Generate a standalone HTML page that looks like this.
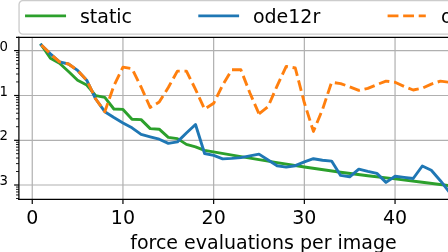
<!DOCTYPE html>
<html><head><meta charset="utf-8"><title>chart</title>
<style>html,body{margin:0;padding:0;background:#fff;width:448px;height:252px;overflow:hidden}</style></head>
<body>
<svg width="448" height="252" viewBox="0 0 448 252" style="display:block;position:absolute;left:0;top:0" font-family="'DejaVu Sans', 'Liberation Sans', sans-serif">
<rect width="448" height="252" fill="#fff"/>
<g stroke="#b0b0b0" stroke-width="1.2" fill="none"><line x1="32.25" y1="37.35" x2="32.25" y2="199.30"/><line x1="122.95" y1="37.35" x2="122.95" y2="199.30"/><line x1="213.65" y1="37.35" x2="213.65" y2="199.30"/><line x1="304.35" y1="37.35" x2="304.35" y2="199.30"/><line x1="395.05" y1="37.35" x2="395.05" y2="199.30"/><line x1="18.90" y1="50.60" x2="460" y2="50.60"/><line x1="18.90" y1="95.50" x2="460" y2="95.50"/><line x1="18.90" y1="140.30" x2="460" y2="140.30"/><line x1="18.90" y1="185.00" x2="460" y2="185.00"/></g>
<clipPath id="c"><rect x="18.90" y="37.35" width="460" height="161.95"/></clipPath>
<g clip-path="url(#c)" fill="none" stroke-width="2.9" stroke-linejoin="round">
<polyline stroke="#2ca02c" stroke-linecap="square" points="41.3,44.9 50.4,58.3 59.5,63.3 68.5,71.5 77.6,80.2 86.7,85.0 95.7,95.6 104.8,97.4 113.9,109.0 123.0,109.4 132.0,119.2 141.1,119.6 150.2,128.6 159.2,129.2 168.3,137.4 177.4,138.6 186.4,144.4 195.5,146.8 204.6,150.4 240.9,156.6 277.1,162.6 304.4,167.0 340.6,172.2 367.8,175.7 395.1,178.9 422.3,182.3 449.5,185.7"/>
<polyline stroke="#1f77b4" stroke-linecap="square" points="41.3,45.0 50.4,53.9 59.5,61.9 68.5,64.0 77.6,70.4 86.7,80.2 95.7,99.0 104.8,111.7 113.9,117.5 123.0,122.9 132.0,127.8 141.1,134.4 150.2,136.8 159.2,139.2 168.3,143.4 177.4,141.9 186.4,133.0 195.5,124.5 204.6,153.5 213.7,155.3 222.7,158.9 231.8,158.4 240.9,157.6 249.9,155.9 259.0,154.1 268.1,160.0 277.1,165.7 286.2,167.1 295.3,165.7 304.4,161.9 313.4,158.7 322.5,160.2 331.6,161.1 340.6,175.4 349.7,176.8 358.8,169.1 367.8,171.4 376.9,173.4 386.0,182.4 395.1,176.2 404.1,177.4 413.2,178.5 422.3,166.0 431.3,170.3 440.4,180.7 449.5,192.3"/>
<path stroke="#ff7f0e" d="M41.32 45.00 L49.03 52.57 M52.54 55.79 L59.46 61.90 L60.97 62.25 M65.60 63.32 L68.53 64.00 L74.90 68.50 M78.59 71.46 L85.92 79.39 M88.26 83.49 L92.96 93.23 M95.02 97.51 L95.74 99.00 L101.06 106.45 M103.82 110.32 L104.81 111.70 L107.79 103.14 M109.36 98.65 L112.92 88.44 M114.69 84.03 L119.41 74.35 M121.50 70.07 L122.95 67.10 L130.33 68.32 M133.37 71.34 L138.15 81.03 M140.25 85.29 L141.09 87.00 L144.71 95.14 M146.64 99.49 L150.16 107.40 L151.97 106.33 M156.05 103.89 L159.23 102.00 L163.00 95.98 M165.52 91.95 L168.30 87.50 L170.99 82.63 M173.30 78.47 L177.37 71.10 L179.73 71.10 M184.49 71.10 L186.44 71.10 L190.39 79.03 M192.49 83.25 L195.51 89.30 L197.19 92.99 M199.16 97.31 L203.65 107.15 M206.68 107.83 L213.65 103.30 L214.74 101.10 M216.85 96.84 L221.65 87.15 M223.92 82.98 L229.46 73.71 M231.99 69.80 L240.86 69.80 L241.53 71.52 M243.23 75.86 L247.05 85.64 M248.73 89.93 L249.93 93.00 L252.80 99.61 M254.63 103.84 L258.80 113.44 M259.00 113.90 L267.44 107.10 M269.65 102.97 L273.96 93.10 M275.86 88.74 L277.14 85.80 L280.36 78.91 M282.37 74.60 L286.21 66.40 L287.89 66.70 M292.57 67.52 L295.28 68.00 L297.31 75.79 M298.51 80.39 L301.23 90.85 M302.43 95.44 L304.35 102.80 L305.32 105.85 M306.75 110.38 L310.02 120.68 M311.45 125.20 L313.42 131.40 L315.07 127.43 M316.90 123.04 L321.05 113.06 M322.81 108.65 L326.21 98.40 M327.71 93.88 L331.10 83.68 M334.83 82.77 L340.63 83.60 L345.31 85.25 M349.79 86.84 L358.77 90.40 L359.90 90.15 M364.51 89.14 L367.84 88.40 L374.64 85.55 M379.06 83.77 L385.98 81.10 L389.32 81.54 M394.05 82.17 L395.05 82.30 L403.98 86.34 M408.40 88.10 L413.19 90.00 L418.71 88.90 M423.31 87.73 L431.33 84.10 L433.23 83.47 M437.69 82.00 L440.40 81.10 L448.32 82.15"/>
</g>
<g stroke="#000" fill="none"><line x1="32.25" y1="199.30" x2="32.25" y2="204.10" stroke-width="1.2"/><line x1="122.95" y1="199.30" x2="122.95" y2="204.10" stroke-width="1.2"/><line x1="213.65" y1="199.30" x2="213.65" y2="204.10" stroke-width="1.2"/><line x1="304.35" y1="199.30" x2="304.35" y2="204.10" stroke-width="1.2"/><line x1="395.05" y1="199.30" x2="395.05" y2="204.10" stroke-width="1.2"/><line x1="18.90" y1="50.60" x2="14.10" y2="50.60" stroke-width="1.2"/><line x1="18.90" y1="95.50" x2="14.10" y2="95.50" stroke-width="1.2"/><line x1="18.90" y1="140.30" x2="14.10" y2="140.30" stroke-width="1.2"/><line x1="18.90" y1="185.00" x2="14.10" y2="185.00" stroke-width="1.2"/><line x1="18.90" y1="198.49" x2="16.00" y2="198.49" stroke-width="0.9"/><line x1="18.90" y1="194.94" x2="16.00" y2="194.94" stroke-width="0.9"/><line x1="18.90" y1="191.94" x2="16.00" y2="191.94" stroke-width="0.9"/><line x1="18.90" y1="189.34" x2="16.00" y2="189.34" stroke-width="0.9"/><line x1="18.90" y1="187.05" x2="16.00" y2="187.05" stroke-width="0.9"/><line x1="18.90" y1="171.51" x2="16.00" y2="171.51" stroke-width="0.9"/><line x1="18.90" y1="163.62" x2="16.00" y2="163.62" stroke-width="0.9"/><line x1="18.90" y1="158.03" x2="16.00" y2="158.03" stroke-width="0.9"/><line x1="18.90" y1="153.69" x2="16.00" y2="153.69" stroke-width="0.9"/><line x1="18.90" y1="150.14" x2="16.00" y2="150.14" stroke-width="0.9"/><line x1="18.90" y1="147.14" x2="16.00" y2="147.14" stroke-width="0.9"/><line x1="18.90" y1="144.54" x2="16.00" y2="144.54" stroke-width="0.9"/><line x1="18.90" y1="142.25" x2="16.00" y2="142.25" stroke-width="0.9"/><line x1="18.90" y1="126.71" x2="16.00" y2="126.71" stroke-width="0.9"/><line x1="18.90" y1="118.82" x2="16.00" y2="118.82" stroke-width="0.9"/><line x1="18.90" y1="113.23" x2="16.00" y2="113.23" stroke-width="0.9"/><line x1="18.90" y1="108.89" x2="16.00" y2="108.89" stroke-width="0.9"/><line x1="18.90" y1="105.34" x2="16.00" y2="105.34" stroke-width="0.9"/><line x1="18.90" y1="102.34" x2="16.00" y2="102.34" stroke-width="0.9"/><line x1="18.90" y1="99.74" x2="16.00" y2="99.74" stroke-width="0.9"/><line x1="18.90" y1="97.45" x2="16.00" y2="97.45" stroke-width="0.9"/><line x1="18.90" y1="81.91" x2="16.00" y2="81.91" stroke-width="0.9"/><line x1="18.90" y1="74.02" x2="16.00" y2="74.02" stroke-width="0.9"/><line x1="18.90" y1="68.43" x2="16.00" y2="68.43" stroke-width="0.9"/><line x1="18.90" y1="64.09" x2="16.00" y2="64.09" stroke-width="0.9"/><line x1="18.90" y1="60.54" x2="16.00" y2="60.54" stroke-width="0.9"/><line x1="18.90" y1="57.54" x2="16.00" y2="57.54" stroke-width="0.9"/><line x1="18.90" y1="54.94" x2="16.00" y2="54.94" stroke-width="0.9"/><line x1="18.90" y1="52.65" x2="16.00" y2="52.65" stroke-width="0.9"/><line x1="18.90" y1="37.35" x2="16.00" y2="37.35" stroke-width="1.25"/></g>
<g stroke="#000" stroke-width="1.25" fill="none" stroke-linecap="square"><line x1="18.90" y1="37.35" x2="18.90" y2="199.30"/><line x1="18.90" y1="37.35" x2="460" y2="37.35"/><line x1="18.90" y1="199.30" x2="460" y2="199.30"/></g>
<text x="32.25" y="224.3" font-size="19" text-anchor="middle">0</text>
<text x="122.95" y="224.3" font-size="19" text-anchor="middle">10</text>
<text x="213.65" y="224.3" font-size="19" text-anchor="middle">20</text>
<text x="304.35" y="224.3" font-size="19" text-anchor="middle">30</text>
<text x="395.05" y="224.3" font-size="19" text-anchor="middle">40</text>
<text x="8" y="50.70" font-size="13.3" text-anchor="end">0</text>
<text x="8" y="95.60" font-size="13.3" text-anchor="end">−1</text>
<text x="8" y="140.40" font-size="13.3" text-anchor="end">−2</text>
<text x="8" y="185.10" font-size="13.3" text-anchor="end">−3</text>
<text x="263.5" y="248.6" font-size="19" text-anchor="middle">force evaluations per image</text>
<rect x="19.05" y="0.6" width="460" height="33.45" rx="3.8" ry="3.8" fill="#fff" fill-opacity="0.8" stroke="#cccccc" stroke-width="1.35"/>
<g fill="none" stroke-width="2.9">
<line x1="26.5" y1="15.9" x2="64.6" y2="15.9" stroke="#2ca02c" stroke-linecap="square"/>
<line x1="199.75" y1="15.9" x2="237.65" y2="15.9" stroke="#1f77b4" stroke-linecap="square"/>
<line x1="387.6" y1="15.9" x2="425.8" y2="15.9" stroke="#ff7f0e" stroke-dasharray="10.85 4.7"/>
</g>
<text x="79.9" y="23" font-size="19">static</text>
<text x="252.9" y="23" font-size="19">ode12r</text>
<text x="441.1" y="23" font-size="19">ode12r + static</text>
</svg>
</body></html>
